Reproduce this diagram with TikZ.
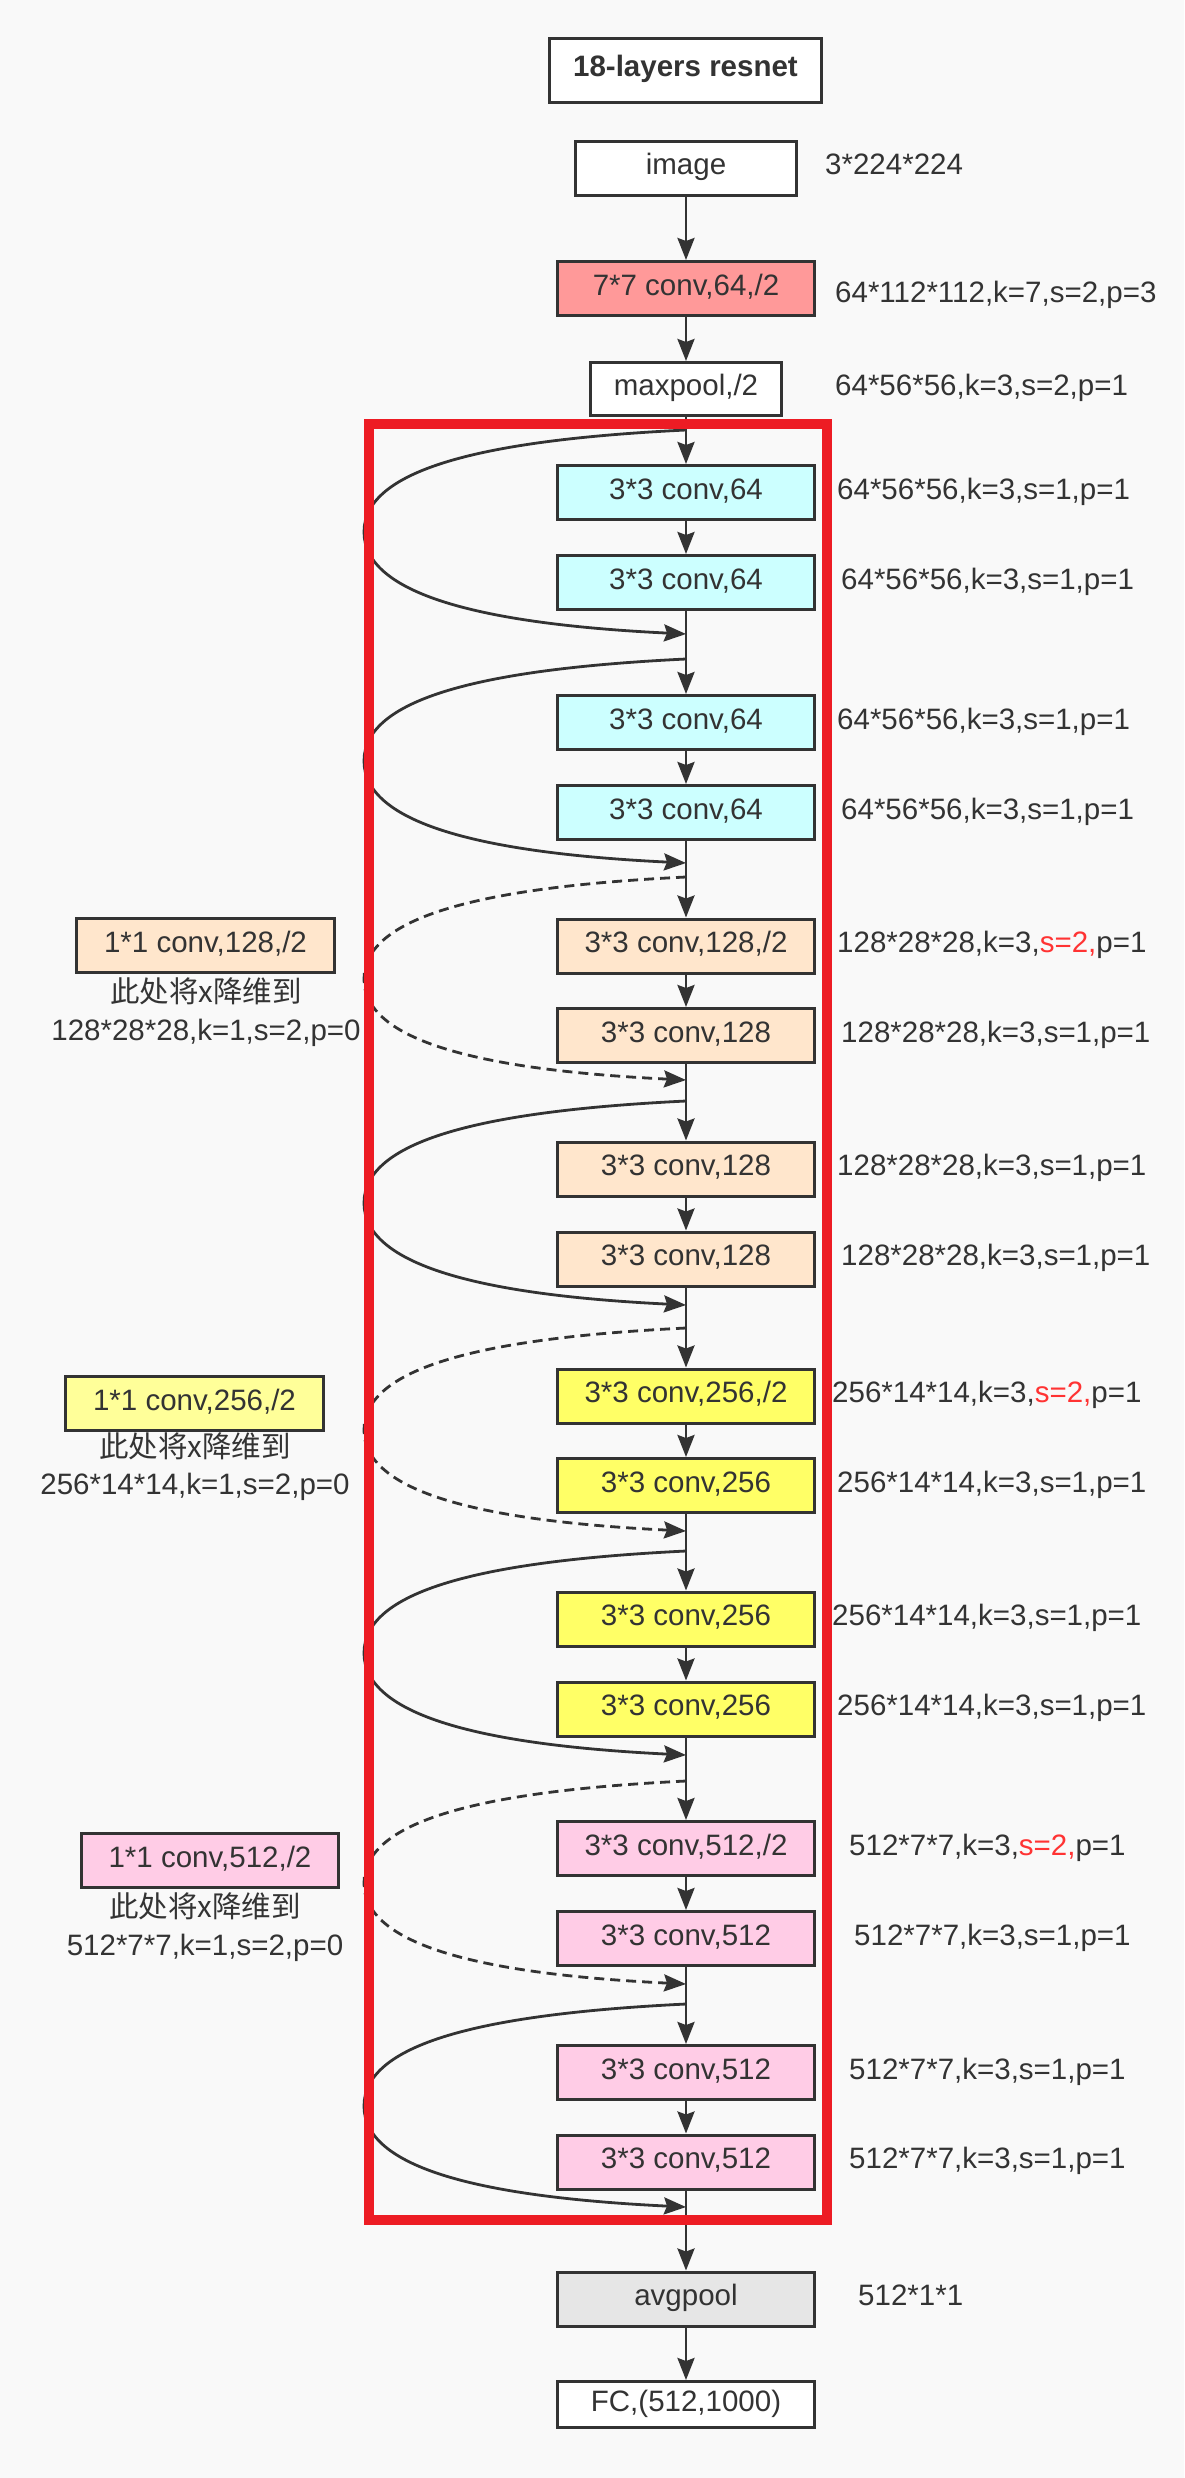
\documentclass[tikz,border=0pt]{standalone}
\usepackage{fontspec}
\setmainfont{Liberation Sans}
\newfontfamily\cjk{Noto Sans CJK SC}
\usetikzlibrary{arrows.meta}
\definecolor{ink}{HTML}{333333}
\definecolor{redline}{HTML}{ED1C24}
\definecolor{redtxt}{HTML}{FF3333}
\definecolor{cred}{HTML}{FF9999}
\definecolor{ccyan}{HTML}{CCFFFF}
\definecolor{cpeach}{HTML}{FFE6CC}
\definecolor{cyel}{HTML}{FFFF66}
\definecolor{cyelb}{HTML}{FFFF99}
\definecolor{cmag}{HTML}{FFCCE6}
\definecolor{cgray}{HTML}{E6E6E6}
\definecolor{bgc}{HTML}{F9F9F9}
\newcommand\fsz{\fontsize{29.5}{34}\selectfont}
\newcommand\skipc[3][]{\draw[flow,#1] (#2) .. controls +(-206,10) and +(0,-62) .. ++(-322,102)
   .. controls +(0,62) and +(-206,-10) .. (#3);}
\begin{document}
\begin{tikzpicture}[x=1pt,y=-1pt,
  box/.style={draw=ink, line width=3pt, minimum width=257pt, minimum height=54pt,
    inner sep=0pt, text height=21pt, text depth=8pt, font=\fsz, text=ink},
  lab/.style={anchor=west, inner sep=0pt, text height=21pt, text depth=8pt, font=\fsz, text=ink},
  note/.style={inner sep=0pt, text height=21pt, text depth=8pt, font=\fsz, text=ink},
  flow/.style={draw=ink, line width=2.8pt, -{Stealth[length=22pt,width=17pt,inset=3pt]}},
  dsh/.style={dash pattern=on 10pt off 6pt}]
\fill[bgc] (0,0) rectangle (1184,2478);
\useasboundingbox (0,0) rectangle (1184,2478);

% top
\node[box, fill=white, minimum width=272pt, minimum height=64pt, font=\fsz\bfseries] (title) at (685.5,70.5) {18-layers resnet};
\node[box, fill=white, minimum width=221pt] (img) at (686,168.5) {image};
\node[box, fill=cred] (c7) at (686,288.5) {7*7 conv,64,/2};
\node[box, fill=white, minimum width=191pt, minimum height=53pt] (mp) at (686,389) {maxpool,/2};

% stage boxes
\node[box, fill=ccyan] (b1) at (686,492.5) {3*3 conv,64};
\node[box, fill=ccyan] (b2) at (686,582.5) {3*3 conv,64};
\node[box, fill=ccyan] (b3) at (686,722.5) {3*3 conv,64};
\node[box, fill=ccyan] (b4) at (686,812.5) {3*3 conv,64};
\node[box, fill=cpeach] (b5) at (686,946) {3*3 conv,128,/2};
\node[box, fill=cpeach] (b6) at (686,1035.5) {3*3 conv,128};
\node[box, fill=cpeach] (b7) at (686,1169) {3*3 conv,128};
\node[box, fill=cpeach] (b8) at (686,1259) {3*3 conv,128};
\node[box, fill=cyel] (b9) at (686,1396) {3*3 conv,256,/2};
\node[box, fill=cyel] (b10) at (686,1485.5) {3*3 conv,256};
\node[box, fill=cyel] (b11) at (686,1619) {3*3 conv,256};
\node[box, fill=cyel] (b12) at (686,1709) {3*3 conv,256};
\node[box, fill=cmag] (b13) at (686,1848.5) {3*3 conv,512,/2};
\node[box, fill=cmag] (b14) at (686,1938.5) {3*3 conv,512};
\node[box, fill=cmag] (b15) at (686,2072.5) {3*3 conv,512};
\node[box, fill=cmag] (b16) at (686,2162) {3*3 conv,512};
\node[box, fill=cgray] (avg) at (686,2299) {avgpool};
\node[box, fill=white, minimum height=46pt] (fc) at (686,2404.5) {FC,(512,1000)};

% right labels
\node[lab] (limg) at (825,168.5) {3*224*224};
\node[lab] (lc7) at (835,296) {64*112*112,k=7,s=2,p=3};
\node[lab] (lmp) at (835,389) {64*56*56,k=3,s=2,p=1};
\node[lab] (l1) at (837,492.5) {64*56*56,k=3,s=1,p=1};
\node[lab] (l2) at (841,582.5) {64*56*56,k=3,s=1,p=1};
\node[lab] (l3) at (837,722.5) {64*56*56,k=3,s=1,p=1};
\node[lab] (l4) at (841,812.5) {64*56*56,k=3,s=1,p=1};
\node[lab] (l5) at (837,946) {128*28*28,k=3,\textcolor{redtxt}{s=2,}p=1};
\node[lab] (l6) at (841,1035.5) {128*28*28,k=3,s=1,p=1};
\node[lab] (l7) at (837,1169) {128*28*28,k=3,s=1,p=1};
\node[lab] (l8) at (841,1259) {128*28*28,k=3,s=1,p=1};
\node[lab] (l9) at (832,1396) {256*14*14,k=3,\textcolor{redtxt}{s=2,}p=1};
\node[lab] (l10) at (837,1485.5) {256*14*14,k=3,s=1,p=1};
\node[lab] (l11) at (832,1619) {256*14*14,k=3,s=1,p=1};
\node[lab] (l12) at (837,1709) {256*14*14,k=3,s=1,p=1};
\node[lab] (l13) at (849,1848.5) {512*7*7,k=3,\textcolor{redtxt}{s=2,}p=1};
\node[lab] (l14) at (854,1938.5) {512*7*7,k=3,s=1,p=1};
\node[lab] (l15) at (849,2072.5) {512*7*7,k=3,s=1,p=1};
\node[lab] (l16) at (849,2162) {512*7*7,k=3,s=1,p=1};
\node[lab] (lavg) at (858,2299) {512*1*1};

% left downsampling notes
\node[box, fill=cpeach, minimum width=258pt] (d1) at (205.5,945.5) {1*1 conv,128,/2};
\node[note, font=\fsz\cjk] (d1a) at (206,996) {此处将x降维到};
\node[note] (d1b) at (206,1034) {128*28*28,k=1,s=2,p=0};
\node[box, fill=cyelb, minimum width=258pt] (d2) at (194.5,1403.5) {1*1 conv,256,/2};
\node[note, font=\fsz\cjk] (d2a) at (195,1451) {此处将x降维到};
\node[note] (d2b) at (195,1488) {256*14*14,k=1,s=2,p=0};
\node[box, fill=cmag, minimum width=257pt] (d3) at (210,1860.5) {1*1 conv,512,/2};
\node[note, font=\fsz\cjk] (d3a) at (205,1911) {此处将x降维到};
\node[note] (d3b) at (205,1949) {512*7*7,k=1,s=2,p=0};

% junction coordinates
\coordinate (s1) at (686,430);  \coordinate (j1) at (686,634);
\coordinate (s2) at (686,659);  \coordinate (j2) at (686,863);
\coordinate (s3) at (686,877);  \coordinate (j3) at (686,1080);
\coordinate (s4) at (686,1101); \coordinate (j4) at (686,1305);
\coordinate (s5) at (686,1328); \coordinate (j5) at (686,1531);
\coordinate (s6) at (686,1551); \coordinate (j6) at (686,1755);
\coordinate (s7) at (686,1781); \coordinate (j7) at (686,1984);
\coordinate (s8) at (686,2004); \coordinate (j8) at (686,2207);

% main flow
\draw[flow] (img.south) -- (c7.north);
\draw[flow] (c7.south) -- (mp.north);
\draw[flow] (mp.south) -- (b1.north);
\foreach \a/\b in {b1/b2,b2/b3,b3/b4,b4/b5,b5/b6,b6/b7,b7/b8,b8/b9,b9/b10,b10/b11,b11/b12,b12/b13,b13/b14,b14/b15,b15/b16,b16/avg,avg/fc}
  \draw[flow] (\a.south) -- (\b.north);

% shortcuts
\skipc{s1}{j1}
\skipc{s2}{j2}
\skipc[dsh]{s3}{j3}
\skipc{s4}{j4}
\skipc[dsh]{s5}{j5}
\skipc{s6}{j6}
\skipc[dsh]{s7}{j7}
\skipc{s8}{j8}

% stage frame
\draw[redline, line width=10pt] (369,424) rectangle (826.5,2219.5);
\end{tikzpicture}
\end{document}
